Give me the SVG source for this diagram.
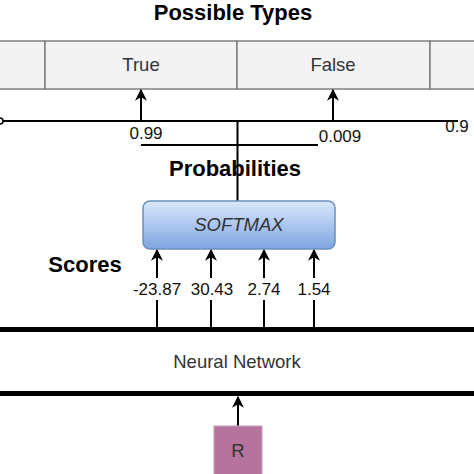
<svg xmlns="http://www.w3.org/2000/svg" width="474" height="474" viewBox="0 0 474 474">
<defs>
<linearGradient id="sg" x1="0" y1="0" x2="0" y2="1"><stop offset="0" stop-color="#dae8fc"/><stop offset="1" stop-color="#7ea6e0"/></linearGradient>
<marker id="ah" markerWidth="12" markerHeight="12" viewBox="0 0 10 10" refX="9" refY="5" orient="auto" markerUnits="userSpaceOnUse"><path d="M0,0 L10,5 L0,10 L3,5 Z" fill="#000"/></marker>
<style>
text{font-family:"Liberation Sans",Arial,sans-serif;}
.bold{font-weight:bold;fill:#000;font-size:22px;text-anchor:middle;}
.lbl{font-size:18.5px;fill:#333;text-anchor:middle;}
.num{font-size:17px;fill:#111;text-anchor:middle;}
.type{fill:#f3f3f3;stroke:#7f7f7f;stroke-width:1.5;}
.conn{stroke:#000;stroke-width:2;fill:none;}
.thick{stroke:#000;stroke-width:5;}
</style>
</defs>
<text class="bold" x="233" y="20" font-size="21.5">Possible Types</text>
<g id="type-left"><rect class="type" x="-10" y="41" width="55" height="48"/></g>
<g id="type-true"><rect class="type" x="45" y="41" width="192" height="48"/><text class="lbl" x="141" y="71">True</text></g>
<g id="type-false"><rect class="type" x="237" y="41" width="193" height="48"/><text class="lbl" x="333" y="71">False</text></g>
<g id="type-right"><rect class="type" x="430" y="41" width="60" height="48"/></g>
<g id="connectors">
<line class="conn" x1="0" y1="121" x2="458" y2="121" stroke-width="1.5"/>
<circle cx="0" cy="121" r="3" fill="#fff" stroke="#000" stroke-width="1.5"/>
<line class="conn" x1="141" y1="121" x2="141" y2="90" marker-end="url(#ah)"/>
<line class="conn" x1="333" y1="121" x2="333" y2="90" marker-end="url(#ah)"/>
<line class="conn" x1="141" y1="145" x2="318" y2="145" stroke-width="1.5"/>
<line class="conn" x1="237.5" y1="121" x2="237.5" y2="201" stroke-width="1.5"/>
<line class="conn" x1="157" y1="278" x2="157" y2="250" marker-end="url(#ah)"/>
<line class="conn" x1="211" y1="278" x2="211" y2="250" marker-end="url(#ah)"/>
<line class="conn" x1="264" y1="278" x2="264" y2="250" marker-end="url(#ah)"/>
<line class="conn" x1="314" y1="278" x2="314" y2="250" marker-end="url(#ah)"/>
<line class="conn" x1="157" y1="300" x2="157" y2="328" stroke-width="1.5"/>
<line class="conn" x1="211" y1="300" x2="211" y2="328" stroke-width="1.5"/>
<line class="conn" x1="264" y1="300" x2="264" y2="328" stroke-width="1.5"/>
<line class="conn" x1="314" y1="300" x2="314" y2="328" stroke-width="1.5"/>
<line class="conn" x1="238" y1="426" x2="238" y2="397" marker-end="url(#ah)"/>
</g>
<text class="num" x="146" y="139">0.99</text>
<text class="num" x="340" y="142">0.009</text>
<text class="num" x="457" y="132" text-anchor="start">0.9</text>
<text class="bold" x="235" y="176">Probabilities</text>
<g id="softmax"><rect x="143" y="201" width="192" height="48" rx="7" fill="url(#sg)" stroke="#6c8ebf" stroke-width="1.5"/><text class="lbl" x="239" y="231" font-style="italic" font-size="19.5">SOFTMAX</text></g>
<text class="bold" x="85" y="272">Scores</text>
<text class="num" x="157" y="295">-23.87</text>
<text class="num" x="212" y="295">30.43</text>
<text class="num" x="264" y="295">2.74</text>
<text class="num" x="314" y="295">1.54</text>
<g id="neural-network">
<line class="thick" x1="0" y1="329.5" x2="474" y2="329.5"/>
<line class="thick" x1="0" y1="393.5" x2="474" y2="393.5"/>
<text class="lbl" x="237" y="368" font-size="18">Neural Network</text>
</g>
<g id="r"><rect x="214" y="426" width="48" height="52" fill="#b5739d" stroke="#c89ec0" stroke-width="1"/><text class="lbl" x="238" y="457" font-size="21" fill="#222">R</text></g>
</svg>
